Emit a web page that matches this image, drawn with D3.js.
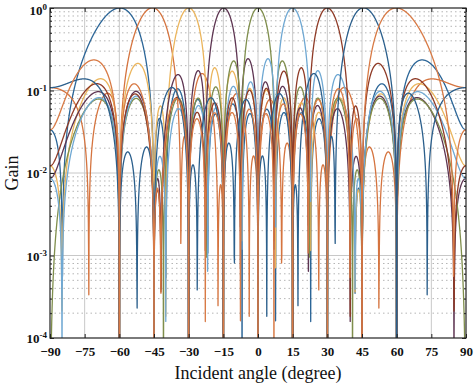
<!DOCTYPE html>
<html><head><meta charset="utf-8">
<script src="https://cdn.jsdelivr.net/npm/d3@7"></script>
<style>
html,body{margin:0;padding:0;background:#fff;}
svg{display:block;font-family:"Liberation Serif","Times New Roman",serif;}
</style></head>
<body>
<svg id="chart" width="474" height="384"></svg>
<script>
// ---- data ----
const beamAngles = [-60, -45, -30, -15, 0, 15, 30, 45, 60];   // peak (steering) directions, degrees
const numElements = 16;                                          // array size inferred from lobe widths
const seriesColors = ["#2b6597", "#d5743f", "#ebb55c", "#5e3552", "#7f8e4c", "#6fa8d3", "#8f3b27", "#2b5f8c", "#d87a45"];
const xTickValues = [-90, -75, -60, -45, -30, -15, 0, 15, 30, 45, 60, 75, 90];
const yTickExponents = [0, -1, -2, -3, -4];
const angleStep = 0.1;

// ---- layout ----
const W = 474, H = 384;
const m = {left: 50, right: 8, top: 8, bottom: 46};
const pw = W - m.left - m.right, ph = H - m.top - m.bottom;
const svg = d3.select("#chart");

const x = d3.scaleLinear().domain([-90, 90]).range([m.left, m.left + pw]);
const y = d3.scaleLog().domain([1e-4, 1]).range([m.top + ph, m.top]);

// ---- beam gain (zero-forcing beams toward beamAngles) ----
const K = beamAngles.length, N = numElements;
const rad = d => d * Math.PI / 180;
function steer(th) { const s = Math.sin(rad(th)); const out = []; for (let n = 0; n < N; n++) { out.push([Math.cos(Math.PI * n * s), Math.sin(Math.PI * n * s)]); } return out; }
const A = beamAngles.map(steer); // A[k][n]
const G = [];
for (let k = 0; k < K; k++) { G.push([]); for (let l = 0; l < K; l++) { let re = 0, im = 0; for (let n = 0; n < N; n++) { const a = A[k][n], b = A[l][n]; re += a[0]*b[0] + a[1]*b[1]; im += a[0]*b[1] - a[1]*b[0]; } G[k].push([re, im]); } }
function cmul(a,b){return [a[0]*b[0]-a[1]*b[1], a[0]*b[1]+a[1]*b[0]];}
function cdiv(a,b){const d=b[0]*b[0]+b[1]*b[1];return [(a[0]*b[0]+a[1]*b[1])/d,(a[1]*b[0]-a[0]*b[1])/d];}
const M = G.map((row,i)=>row.map(v=>v.slice()).concat(d3.range(K).map(j=>[i===j?1:0,0])));
for (let c = 0; c < K; c++) {
  let p = c; for (let r = c+1; r < K; r++) if (Math.hypot(...M[r][c]) > Math.hypot(...M[p][c])) p = r;
  [M[c], M[p]] = [M[p], M[c]];
  const pv = M[c][c];
  for (let j = 0; j < 2*K; j++) M[c][j] = cdiv(M[c][j], pv);
  for (let r = 0; r < K; r++) { if (r === c) continue; const f = M[r][c]; for (let j = 0; j < 2*K; j++) { const t = cmul(f, M[c][j]); M[r][j] = [M[r][j][0]-t[0], M[r][j][1]-t[1]]; } }
}
const Ginv = M.map(row => row.slice(K));
const Wt = d3.range(K).map(k => d3.range(N).map(n => { let re=0, im=0; for (let l=0;l<K;l++){ const t=cmul(A[l][n], Ginv[l][k]); re+=t[0]; im+=t[1]; } return [re,im]; }));
const angles = d3.range(-90, 90 + angleStep/2, angleStep).map(v => Math.round(v*10)/10);
const series = Wt.map(w => angles.map(th => { const a = steer(th); let re=0, im=0; for (let n=0;n<N;n++){ re += w[n][0]*a[n][0] + w[n][1]*a[n][1]; im += w[n][0]*a[n][1] - w[n][1]*a[n][0]; } return {th, g: Math.hypot(re, im)}; }));

// ---- grid ----
svg.append("defs").append("clipPath").attr("id","clip").append("rect").attr("x",m.left).attr("y",m.top).attr("width",pw).attr("height",ph);
const grid = svg.append("g");
const minor = [];
for (let e = -4; e < 0; e++) for (let k = 2; k <= 9; k++) minor.push(k * Math.pow(10, e));
grid.selectAll(".mn").data(minor).join("line").attr("x1",m.left).attr("x2",m.left+pw).attr("y1",d=>y(d)).attr("y2",d=>y(d)).attr("stroke","#b5b5b5").attr("stroke-width",1).attr("stroke-dasharray","1.5,3");
grid.selectAll(".mj").data(yTickExponents.slice(1,4)).join("line").attr("x1",m.left).attr("x2",m.left+pw).attr("y1",d=>y(Math.pow(10,d))).attr("y2",d=>y(Math.pow(10,d))).attr("stroke","#c8c8c8").attr("stroke-width",1);
grid.selectAll(".vx").data(xTickValues.slice(1,-1)).join("line").attr("y1",m.top).attr("y2",m.top+ph).attr("x1",d=>x(d)).attr("x2",d=>x(d)).attr("stroke","#c8c8c8").attr("stroke-width",1);

// ---- curves ----
const line = d3.line().x(d => x(d.th)).y(d => y(Math.max(d.g, 1e-7)));
svg.append("g").attr("clip-path","url(#clip)").selectAll("path").data(series).join("path")
  .attr("d", line).attr("fill","none").attr("stroke",(d,i)=>seriesColors[i]).attr("stroke-width",1.3).attr("stroke-linejoin","round");

// ---- axes ----
const ax = svg.append("g");
ax.append("rect").attr("x",m.left).attr("y",m.top).attr("width",pw).attr("height",ph).attr("fill","none").attr("stroke","#222").attr("stroke-width",1.2);
const xb = d3.axisBottom(x).tickValues(xTickValues).tickSize(-4).tickPadding(9).tickFormat(d3.format("d"));
const xt = d3.axisTop(x).tickValues(xTickValues).tickSize(-4).tickFormat("");
const gxb = ax.append("g").attr("transform",`translate(0,${m.top+ph})`).call(xb);
ax.append("g").attr("transform",`translate(0,${m.top})`).call(xt);
const yTicks = yTickExponents.map(e => Math.pow(10, e));
ax.append("g").attr("transform",`translate(${m.left},0)`).call(d3.axisLeft(y).tickValues(yTicks).tickSize(-4).tickFormat(""));
ax.append("g").attr("transform",`translate(${m.left+pw},0)`).call(d3.axisRight(y).tickValues(yTicks).tickSize(-4).tickFormat(""));
ax.append("g").attr("transform",`translate(${m.left},0)`).call(d3.axisLeft(y).tickValues(minor).tickSize(-2).tickFormat(""));
ax.append("g").attr("transform",`translate(${m.left+pw},0)`).call(d3.axisRight(y).tickValues(minor).tickSize(-2).tickFormat(""));
ax.selectAll(".domain").remove();
ax.selectAll(".tick line").attr("stroke","#222");
gxb.selectAll("text").attr("font-size",13).attr("font-weight","bold").attr("fill","#111").attr("font-family","Liberation Serif");

// y tick labels 10^e
const ylab = svg.append("g");
yTickExponents.forEach(e => {
  const base = Math.max(y(Math.pow(10,e)) + 5, 15);
  const t = ylab.append("text").attr("x", m.left - 3).attr("y", base).attr("text-anchor","end").attr("fill","#111").attr("font-size",13).attr("font-weight","bold");
  t.append("tspan").text("10");
  t.append("tspan").attr("dy",-5).attr("font-size",9).text(String(e));
});

// axis titles
svg.append("text").attr("x", m.left + pw/2).attr("y", 379).attr("text-anchor","middle").attr("font-size",18).attr("fill","#111").text("Incident angle (degree)");
svg.append("text").attr("transform",`translate(18,${m.top+ph/2}) rotate(-90)`).attr("text-anchor","middle").attr("font-size",18).attr("fill","#111").text("Gain");
</script>
</body></html>
